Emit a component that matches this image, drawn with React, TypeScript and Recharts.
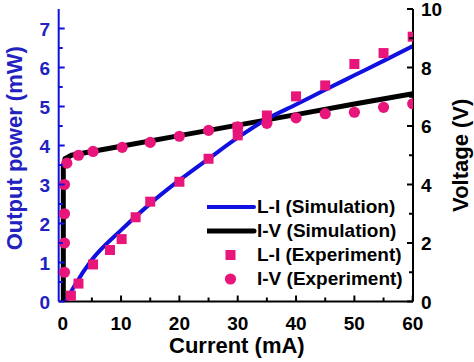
import React from 'react';
import { ComposedChart, Line, Scatter, XAxis, YAxis, Legend } from 'recharts';

// ---- data ----
const liSimCurrent = [0.5, 2, 5, 10, 15, 20, 25, 30, 35, 40, 45, 50, 55, 60];
const liSimPower = [0, 0.4, 1.07, 1.83, 2.51, 3.11, 3.66, 4.2, 4.68, 5.05, 5.43, 5.8, 6.17, 6.55];

const ivSimCurrent = [0.1, 0.1, 0.4, 1.5, 5, 10, 20, 30, 40, 50, 60];
const ivSimVoltage = [0, 4.6, 4.88, 5.0, 5.13, 5.31, 5.67, 6.03, 6.39, 6.75, 7.1];

const liExpCurrent = [1.4, 2.7, 5.2, 8.1, 10.1, 12.5, 15, 20, 25, 30, 30, 35, 40, 45, 50, 55, 60];
const liExpPower = [0.15, 0.46, 0.95, 1.32, 1.6, 2.16, 2.56, 3.07, 3.66, 4.47, 4.26, 4.77, 5.26, 5.54, 6.09, 6.37, 6.79];

const ivExpCurrent = [0.3, 0.3, 0.3, 0.3, 0.7, 2.7, 5.2, 10.2, 15, 20, 25, 30, 35, 40, 45, 50, 55, 60];
const ivExpVoltage = [1, 2, 3, 4, 4.73, 5.0, 5.13, 5.27, 5.44, 5.65, 5.85, 5.97, 6.09, 6.28, 6.42, 6.47, 6.64, 6.76];

const xTicks = [0, 5, 10, 15, 20, 25, 30, 35, 40, 45, 50, 55, 60];
const leftTicks = [0, 0.5, 1, 1.5, 2, 2.5, 3, 3.5, 4, 4.5, 5, 5.5, 6, 6.5, 7];
const rightTicks = [0, 1, 2, 3, 4, 5, 6, 7, 8, 9, 10];

const legendItems = ['L-I (Simulation)', 'I-V (Simulation)', 'L-I (Experiment)', 'I-V (Experiment)'];

const zip = (xs: number[], ys: number[]) => xs.map((x, i) => ({ x, y: ys[i] }));
const liSim = zip(liSimCurrent, liSimPower);
const ivSim = zip(ivSimCurrent, ivSimVoltage);
const liExp = zip(liExpCurrent, liExpPower);
const ivExp = zip(ivExpCurrent, ivExpVoltage);

const FONT = '"Liberation Sans", Arial, sans-serif';
const PINK = '#E8157A';
const BLUE = '#1010E0';
const BLUE_TXT = '#2222C0';

const BottomTick = (props: any) => {
  const { x, y, payload } = props;
  const v = payload.value;
  const major = v % 10 === 0;
  return (
    <g>
      <line x1={x} y1={y} x2={x} y2={y - (major ? 6 : 4)} stroke="#000" strokeWidth={2} />
      {major && (
        <text x={x} y={y + 28.5} textAnchor="middle" fontFamily={FONT} fontWeight="bold" fontSize={19} fill="#000">
          {v}
        </text>
      )}
    </g>
  );
};

const TopTick = (props: any) => {
  const { x, y, payload } = props;
  const major = payload.value % 10 === 0;
  return <line x1={x} y1={y} x2={x} y2={y + (major ? 6 : 4)} stroke="#000" strokeWidth={2} />;
};

const LeftTick = (props: any) => {
  const { x, y, payload } = props;
  const v = payload.value;
  const major = Number.isInteger(v);
  return (
    <g>
      <line x1={x} y1={y} x2={x + (major ? 6 : 4)} y2={y} stroke={BLUE} strokeWidth={2} />
      {major && (
        <text x={x - 8.5} y={y + 7} textAnchor="end" fontFamily={FONT} fontWeight="bold" fontSize={19} fill={BLUE_TXT}>
          {v}
        </text>
      )}
    </g>
  );
};

const RightTick = (props: any) => {
  const { x, y, payload } = props;
  const v = payload.value;
  const major = v % 2 === 0;
  return (
    <g>
      <line x1={x} y1={y} x2={x - (major ? 6 : 4)} y2={y} stroke="#000" strokeWidth={2} />
      {major && (
        <text x={x + 8} y={y + 7} textAnchor="start" fontFamily={FONT} fontWeight="bold" fontSize={19} fill="#000">
          {v}
        </text>
      )}
    </g>
  );
};

const SquareShape = (props: any) => {
  const { cx, cy } = props;
  return <rect x={cx - 5} y={cy - 5} width={10} height={10} fill={PINK} />;
};
const CircleShape = (props: any) => {
  const { cx, cy } = props;
  return <circle cx={cx} cy={cy} r={5.6} fill={PINK} />;
};

const LegendContent = () => (
  <div style={{ fontFamily: FONT, fontWeight: 'bold', fontSize: 19, color: '#000' }}>
    {legendItems.map((label, i) => (
      <div key={label} style={{ display: 'flex', alignItems: 'center', height: 24.2, whiteSpace: 'nowrap' }}>
        <svg width={50} height={14} style={{ display: 'block' }}>
          {i === 0 && <line x1={0} y1={7} x2={47} y2={7} stroke={BLUE} strokeWidth={4} strokeLinecap="round" />}
          {i === 1 && <line x1={0} y1={7} x2={47} y2={7} stroke="#000" strokeWidth={5} strokeLinecap="round" />}
          {i === 2 && <rect x={18.5} y={2} width={10} height={10} fill={PINK} />}
          {i === 3 && <circle cx={23.5} cy={7} r={5.6} fill={PINK} />}
        </svg>
        <span style={{ lineHeight: '24px' }}>{label}</span>
      </div>
    ))}
  </div>
);

const XLabel = (props: any) => {
  const { viewBox } = props;
  const cx = viewBox.x + viewBox.width / 2;
  return (
    <text x={cx + 1} y={353} textAnchor="middle" fontFamily={FONT} fontWeight="bold" fontSize={22} fill="#000">
      Current (mA)
    </text>
  );
};

const LeftLabel = (props: any) => {
  const { viewBox } = props;
  const cy = viewBox.y + viewBox.height / 2 - 7;
  const x = 22;
  return (
    <text x={x} y={cy} transform={`rotate(-90, ${x}, ${cy})`} textAnchor="middle" fontFamily={FONT} fontWeight="bold" fontSize={22} fill={BLUE_TXT}>
      Output power (mW)
    </text>
  );
};

const RightLabel = (props: any) => {
  const { viewBox } = props;
  const cy = viewBox.y + viewBox.height / 2;
  const x = 468;
  return (
    <text x={x} y={cy} transform={`rotate(-90, ${x}, ${cy})`} textAnchor="middle" fontFamily={FONT} fontWeight="bold" fontSize={22} fill="#000">
      Voltage (V)
    </text>
  );
};

export default function App() {
  return (
    <div style={{ position: 'absolute', left: 0, top: 0, background: '#fff' }}>
      <ComposedChart width={474} height={362} margin={{ top: 9, right: 0, bottom: 0, left: 0 }}>
        <XAxis
          xAxisId="x"
          dataKey="x"
          type="number"
          domain={[-0.69, 60.05]}
          ticks={xTicks}
          interval={0}
          allowDataOverflow
          height={60.5}
          tickSize={0}
          tickMargin={0}
          tickLine={false}
          tick={<BottomTick />}
          axisLine={{ stroke: '#000', strokeWidth: 2 }}
          label={<XLabel />}
        />
        <XAxis
          xAxisId="top"
          orientation="top"
          dataKey="x"
          type="number"
          domain={[-0.69, 60.05]}
          ticks={xTicks}
          interval={0}
          allowDataOverflow
          height={0}
          tickSize={0}
          tickMargin={0}
          tickLine={false}
          tick={<TopTick />}
          axisLine={{ stroke: '#000', strokeWidth: 2 }}
        />
        <YAxis
          yAxisId="L"
          dataKey="y"
          type="number"
          domain={[0, 7.5]}
          ticks={leftTicks}
          interval={0}
          allowDataOverflow
          width={58.7}
          tickSize={0}
          tickMargin={0}
          tickLine={false}
          tick={<LeftTick />}
          axisLine={{ stroke: BLUE, strokeWidth: 2 }}
          label={<LeftLabel />}
        />
        <YAxis
          yAxisId="R"
          orientation="right"
          dataKey="y"
          type="number"
          domain={[0, 10]}
          ticks={rightTicks}
          interval={0}
          allowDataOverflow
          width={61}
          tickSize={0}
          tickMargin={0}
          tickLine={false}
          tick={<RightTick />}
          axisLine={{ stroke: '#000', strokeWidth: 2 }}
          label={<RightLabel />}
        />
        <Legend
          layout="vertical"
          align="center"
          verticalAlign="middle"
          content={<LegendContent />}
          wrapperStyle={{ position: 'absolute', left: 207, top: 194.5, width: 'auto', height: 'auto' }}
        />
        <Line
          xAxisId="x"
          yAxisId="R"
          data={ivSim}
          dataKey="y"
          type="linear"
          stroke="#000"
          strokeWidth={5}
          dot={false}
          isAnimationActive={false}
          legendType="none"
        />
        <Line
          xAxisId="x"
          yAxisId="L"
          data={liSim}
          dataKey="y"
          type="monotone"
          stroke={BLUE}
          strokeWidth={4}
          dot={false}
          isAnimationActive={false}
        />
        <Scatter
          xAxisId="x"
          yAxisId="L"
          data={liExp}
          dataKey="y"
          fill={PINK}
          shape={<SquareShape />}
          isAnimationActive={false}
        />
        <Scatter
          xAxisId="x"
          yAxisId="R"
          data={ivExp}
          dataKey="y"
          fill={PINK}
          shape={<CircleShape />}
          isAnimationActive={false}
        />
      </ComposedChart>
    </div>
  );
}
